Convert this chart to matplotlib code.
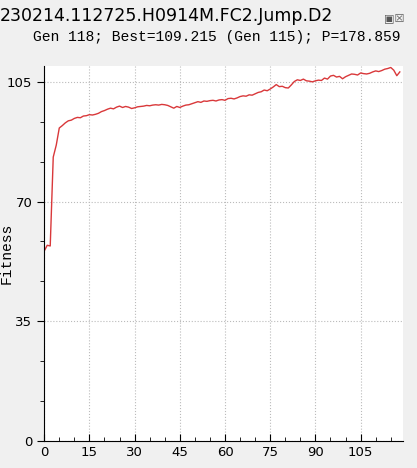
import matplotlib
matplotlib.use('Agg')
import matplotlib.pyplot as plt
from matplotlib.ticker import MultipleLocator

fitness = [
    55.5, 57.2, 57.0, 83.0, 86.5, 91.5, 92.2, 93.0, 93.6, 93.8,
    94.3, 94.6, 94.5, 95.0, 95.1, 95.4, 95.3, 95.5, 95.8, 96.3,
    96.6, 97.0, 97.3, 97.1, 97.6, 97.9, 97.5, 97.8, 97.6, 97.2,
    97.4, 97.7, 97.8, 97.9, 98.1, 98.0, 98.2, 98.3, 98.2, 98.4,
    98.3, 98.1, 97.7, 97.3, 97.8, 97.5, 97.9, 98.2, 98.3, 98.6,
    98.9, 99.2, 99.0, 99.4, 99.3, 99.5, 99.6, 99.4, 99.7, 99.8,
    99.6, 100.1, 100.2, 100.0, 100.3, 100.7, 100.9, 100.8, 101.2, 101.1,
    101.5, 101.9, 102.1, 102.6, 102.4, 102.9, 103.5, 104.2, 103.6, 103.7,
    103.3, 103.2, 104.1, 105.1, 105.6, 105.4, 105.8, 105.3, 105.2, 105.0,
    105.3, 105.5, 105.4, 106.1, 105.8, 106.7, 106.9, 106.4, 106.6, 105.9,
    106.5, 106.9, 107.3, 107.2, 107.0, 107.6, 107.4, 107.3, 107.5, 107.9,
    108.2, 108.0, 108.3, 108.7, 108.9, 109.2, 108.4, 106.8, 107.9,
]
gens = list(range(len(fitness)))

fig = plt.figure(figsize=(4.17, 4.68), dpi=100, facecolor='#f0f0f0')
fig.text(0.0, 0.985, '230214.112725.H0914M.FC2.Jump.D2', fontsize=12.5,
         va='top', ha='left', family='DejaVu Sans')
fig.text(0.52, 0.935, 'Gen 118; Best=109.215 (Gen 115); P=178.859', fontsize=10.5,
         va='top', ha='center', family='Liberation Mono')
fig.text(0.92, 0.962, '\u25a3\u2612', fontsize=8, va='center', color='#555555',
         family='DejaVu Sans')

# white panel behind the plot
bg = fig.add_axes([0.012, 0.04, 0.975, 0.85])
bg.set_facecolor('white')
bg.axis('off')
bg.patch.set_visible(True)
bg.set_zorder(0)

ax = fig.add_axes([0.106, 0.058, 0.86, 0.80])
ax.set_zorder(1)
ax.set_facecolor('white')
ax.plot(gens, fitness, color='#d9383a', lw=1.0)
ax.set_xlim(0, 119)
ax.set_ylim(0, 109.5)
ax.xaxis.set_major_locator(MultipleLocator(15))
ax.xaxis.set_minor_locator(MultipleLocator(5))
ax.yaxis.set_major_locator(MultipleLocator(35))
ax.yaxis.set_minor_locator(MultipleLocator(35 / 3))
ax.grid(True, which='major', ls=':', color='#bbbbbb', lw=0.8)
for s in ['top', 'right']:
    ax.spines[s].set_visible(False)
ax.tick_params(axis='x', which='both', direction='in', labelsize=9.5)
ax.tick_params(axis='y', which='both', direction='out', labelsize=9.5)
ax.tick_params(which='major', length=5)
ax.tick_params(which='minor', length=3)
ax.set_ylabel('Fitness', family='Liberation Mono', fontsize=10.5)
ax.yaxis.set_label_coords(-0.085, 0.5)

plt.savefig('out.png', dpi=100, facecolor=fig.get_facecolor())
